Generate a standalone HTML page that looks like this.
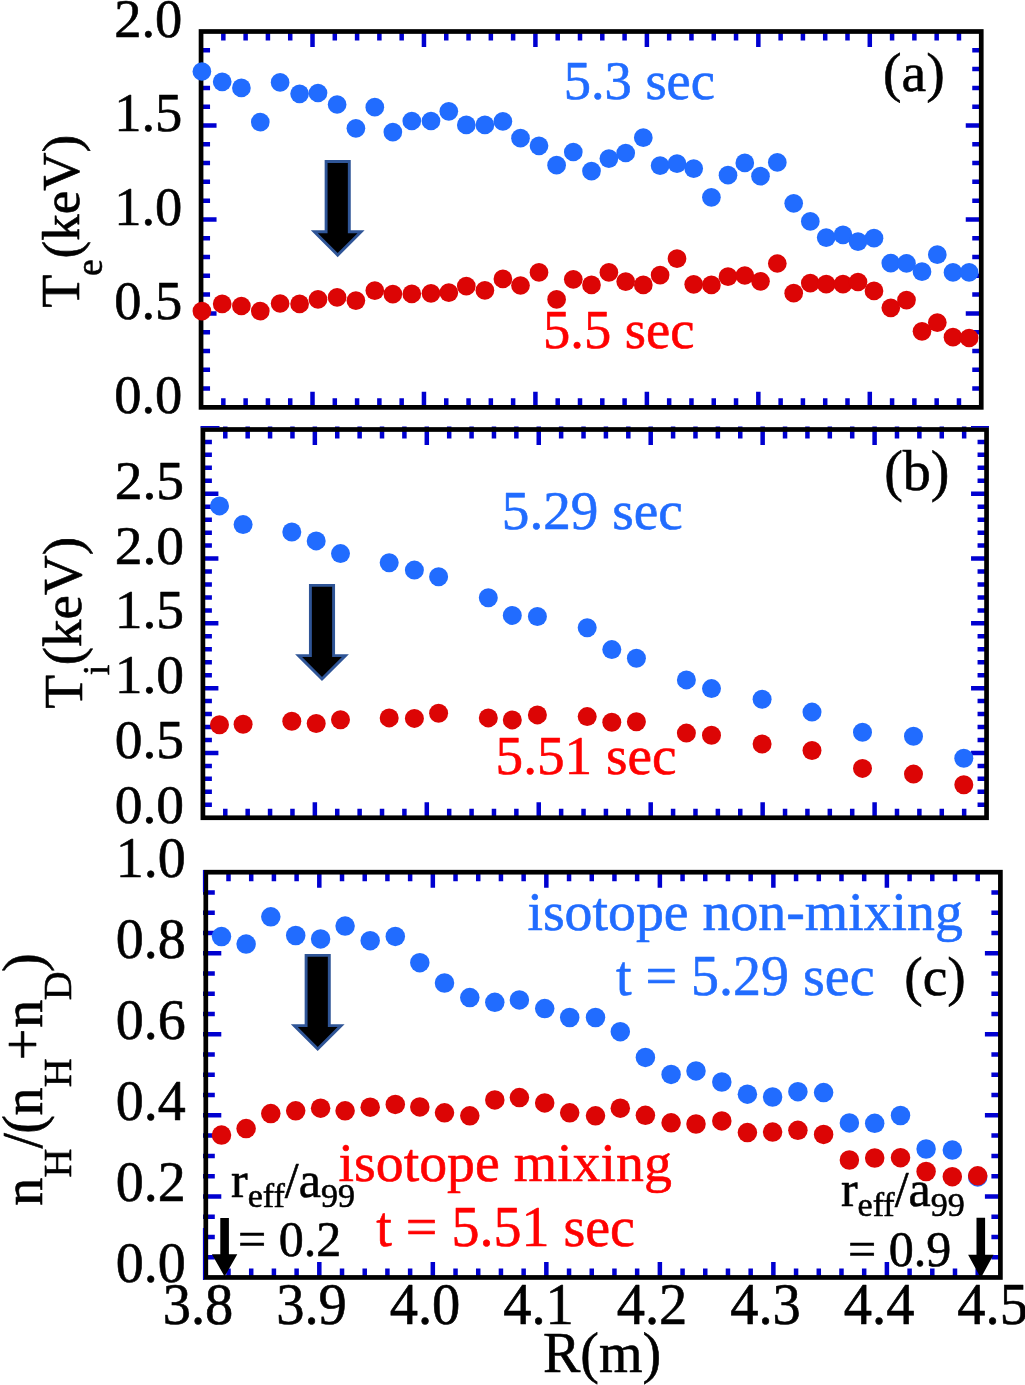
<!DOCTYPE html>
<html><head><meta charset="utf-8"><style>
html,body{margin:0;padding:0;background:#fff;}
svg{display:block;}
text{font-family:"Liberation Serif", serif;}
.t{opacity:0.999;}
.t text{stroke-width:0.6px;stroke-linejoin:round;}
</style></head><body>
<svg width="1025" height="1385" viewBox="0 0 1025 1385">
<rect width="1025" height="1385" fill="#fff"/>
<path d="M223.34 31.50V40.50M223.34 407.35V398.35M245.63 31.50V40.50M245.63 407.35V398.35M267.92 31.50V40.50M267.92 407.35V398.35M290.22 31.50V40.50M290.22 407.35V398.35M312.51 31.50V47.00M312.51 407.35V391.85M334.80 31.50V40.50M334.80 407.35V398.35M357.09 31.50V40.50M357.09 407.35V398.35M379.38 31.50V40.50M379.38 407.35V398.35M401.67 31.50V40.50M401.67 407.35V398.35M423.96 31.50V47.00M423.96 407.35V391.85M446.26 31.50V40.50M446.26 407.35V398.35M468.55 31.50V40.50M468.55 407.35V398.35M490.84 31.50V40.50M490.84 407.35V398.35M513.13 31.50V40.50M513.13 407.35V398.35M535.42 31.50V47.00M535.42 407.35V391.85M557.71 31.50V40.50M557.71 407.35V398.35M580.00 31.50V40.50M580.00 407.35V398.35M602.30 31.50V40.50M602.30 407.35V398.35M624.59 31.50V40.50M624.59 407.35V398.35M646.88 31.50V47.00M646.88 407.35V391.85M669.17 31.50V40.50M669.17 407.35V398.35M691.46 31.50V40.50M691.46 407.35V398.35M713.75 31.50V40.50M713.75 407.35V398.35M736.04 31.50V40.50M736.04 407.35V398.35M758.34 31.50V47.00M758.34 407.35V391.85M780.63 31.50V40.50M780.63 407.35V398.35M802.92 31.50V40.50M802.92 407.35V398.35M825.21 31.50V40.50M825.21 407.35V398.35M847.50 31.50V40.50M847.50 407.35V398.35M869.79 31.50V47.00M869.79 407.35V391.85M892.08 31.50V40.50M892.08 407.35V398.35M914.38 31.50V40.50M914.38 407.35V398.35M936.67 31.50V40.50M936.67 407.35V398.35M958.96 31.50V40.50M958.96 407.35V398.35M201.05 388.56H210.05M981.25 388.56H972.25M201.05 369.77H210.05M981.25 369.77H972.25M201.05 350.97H210.05M981.25 350.97H972.25M201.05 332.18H210.05M981.25 332.18H972.25M201.05 294.60H210.05M981.25 294.60H972.25M201.05 275.80H210.05M981.25 275.80H972.25M201.05 257.01H210.05M981.25 257.01H972.25M201.05 238.22H210.05M981.25 238.22H972.25M201.05 200.63H210.05M981.25 200.63H972.25M201.05 181.84H210.05M981.25 181.84H972.25M201.05 163.05H210.05M981.25 163.05H972.25M201.05 144.25H210.05M981.25 144.25H972.25M201.05 106.67H210.05M981.25 106.67H972.25M201.05 87.88H210.05M981.25 87.88H972.25M201.05 69.08H210.05M981.25 69.08H972.25M201.05 50.29H210.05M981.25 50.29H972.25M201.05 313.39H216.55M981.25 313.39H965.75M201.05 219.43H216.55M981.25 219.43H965.75M201.05 125.46H216.55M981.25 125.46H965.75" stroke="#0000d0" stroke-width="4.5" fill="none"/>
<rect x="201.05" y="31.50" width="780.20" height="375.85" fill="none" stroke="#000" stroke-width="4.7"/>
<path d="M225.29 426.40V438.50M225.29 817.75V808.75M247.68 426.40V438.50M247.68 817.75V808.75M270.07 426.40V438.50M270.07 817.75V808.75M292.46 426.40V438.50M292.46 817.75V808.75M314.85 426.40V445.00M314.85 817.75V802.25M337.24 426.40V438.50M337.24 817.75V808.75M359.63 426.40V438.50M359.63 817.75V808.75M382.02 426.40V438.50M382.02 817.75V808.75M404.41 426.40V438.50M404.41 817.75V808.75M426.80 426.40V445.00M426.80 817.75V802.25M449.19 426.40V438.50M449.19 817.75V808.75M471.58 426.40V438.50M471.58 817.75V808.75M493.97 426.40V438.50M493.97 817.75V808.75M516.36 426.40V438.50M516.36 817.75V808.75M538.75 426.40V445.00M538.75 817.75V802.25M561.14 426.40V438.50M561.14 817.75V808.75M583.53 426.40V438.50M583.53 817.75V808.75M605.92 426.40V438.50M605.92 817.75V808.75M628.31 426.40V438.50M628.31 817.75V808.75M650.70 426.40V445.00M650.70 817.75V802.25M673.09 426.40V438.50M673.09 817.75V808.75M695.48 426.40V438.50M695.48 817.75V808.75M717.87 426.40V438.50M717.87 817.75V808.75M740.26 426.40V438.50M740.26 817.75V808.75M762.65 426.40V445.00M762.65 817.75V802.25M785.04 426.40V438.50M785.04 817.75V808.75M807.43 426.40V438.50M807.43 817.75V808.75M829.82 426.40V438.50M829.82 817.75V808.75M852.21 426.40V438.50M852.21 817.75V808.75M874.60 426.40V445.00M874.60 817.75V802.25M896.99 426.40V438.50M896.99 817.75V808.75M919.38 426.40V438.50M919.38 817.75V808.75M941.77 426.40V438.50M941.77 817.75V808.75M964.16 426.40V438.50M964.16 817.75V808.75M202.90 804.79H211.90M986.55 804.79H977.55M202.90 791.83H211.90M986.55 791.83H977.55M202.90 778.87H211.90M986.55 778.87H977.55M202.90 765.91H211.90M986.55 765.91H977.55M202.90 739.99H211.90M986.55 739.99H977.55M202.90 727.03H211.90M986.55 727.03H977.55M202.90 714.07H211.90M986.55 714.07H977.55M202.90 701.11H211.90M986.55 701.11H977.55M202.90 675.19H211.90M986.55 675.19H977.55M202.90 662.23H211.90M986.55 662.23H977.55M202.90 649.27H211.90M986.55 649.27H977.55M202.90 636.31H211.90M986.55 636.31H977.55M202.90 610.39H211.90M986.55 610.39H977.55M202.90 597.43H211.90M986.55 597.43H977.55M202.90 584.47H211.90M986.55 584.47H977.55M202.90 571.51H211.90M986.55 571.51H977.55M202.90 545.59H211.90M986.55 545.59H977.55M202.90 532.63H211.90M986.55 532.63H977.55M202.90 519.67H211.90M986.55 519.67H977.55M202.90 506.71H211.90M986.55 506.71H977.55M202.90 480.79H211.90M986.55 480.79H977.55M202.90 467.83H211.90M986.55 467.83H977.55M202.90 454.87H211.90M986.55 454.87H977.55M202.90 441.91H211.90M986.55 441.91H977.55M202.90 752.95H218.40M986.55 752.95H971.05M202.90 688.15H218.40M986.55 688.15H971.05M202.90 623.35H218.40M986.55 623.35H971.05M202.90 558.55H218.40M986.55 558.55H971.05M202.90 493.75H218.40M986.55 493.75H971.05" stroke="#0000d0" stroke-width="4.5" fill="none"/>
<rect x="202.90" y="429.50" width="783.65" height="388.25" fill="none" stroke="#000" stroke-width="4.7"/>
<path d="M228.50 872.20V881.20M228.50 1277.45V1268.45M251.21 872.20V881.20M251.21 1277.45V1268.45M273.91 872.20V881.20M273.91 1277.45V1268.45M296.61 872.20V881.20M296.61 1277.45V1268.45M319.31 872.20V887.70M319.31 1277.45V1261.95M342.02 872.20V881.20M342.02 1277.45V1268.45M364.72 872.20V881.20M364.72 1277.45V1268.45M387.42 872.20V881.20M387.42 1277.45V1268.45M410.13 872.20V881.20M410.13 1277.45V1268.45M432.83 872.20V887.70M432.83 1277.45V1261.95M455.53 872.20V881.20M455.53 1277.45V1268.45M478.23 872.20V881.20M478.23 1277.45V1268.45M500.94 872.20V881.20M500.94 1277.45V1268.45M523.64 872.20V881.20M523.64 1277.45V1268.45M546.34 872.20V887.70M546.34 1277.45V1261.95M569.05 872.20V881.20M569.05 1277.45V1268.45M591.75 872.20V881.20M591.75 1277.45V1268.45M614.45 872.20V881.20M614.45 1277.45V1268.45M637.15 872.20V881.20M637.15 1277.45V1268.45M659.86 872.20V887.70M659.86 1277.45V1261.95M682.56 872.20V881.20M682.56 1277.45V1268.45M705.26 872.20V881.20M705.26 1277.45V1268.45M727.97 872.20V881.20M727.97 1277.45V1268.45M750.67 872.20V881.20M750.67 1277.45V1268.45M773.37 872.20V887.70M773.37 1277.45V1261.95M796.07 872.20V881.20M796.07 1277.45V1268.45M818.78 872.20V881.20M818.78 1277.45V1268.45M841.48 872.20V881.20M841.48 1277.45V1268.45M864.18 872.20V881.20M864.18 1277.45V1268.45M886.89 872.20V887.70M886.89 1277.45V1261.95M909.59 872.20V881.20M909.59 1277.45V1268.45M932.29 872.20V881.20M932.29 1277.45V1268.45M954.99 872.20V881.20M954.99 1277.45V1268.45M977.70 872.20V881.20M977.70 1277.45V1268.45M203.00 1257.19H214.80M1000.40 1257.19H991.40M203.00 1236.92H214.80M1000.40 1236.92H991.40M203.00 1216.66H214.80M1000.40 1216.66H991.40M203.00 1176.14H214.80M1000.40 1176.14H991.40M203.00 1155.88H214.80M1000.40 1155.88H991.40M203.00 1135.61H214.80M1000.40 1135.61H991.40M203.00 1095.09H214.80M1000.40 1095.09H991.40M203.00 1074.83H214.80M1000.40 1074.83H991.40M203.00 1054.56H214.80M1000.40 1054.56H991.40M203.00 1014.04H214.80M1000.40 1014.04H991.40M203.00 993.78H214.80M1000.40 993.78H991.40M203.00 973.51H214.80M1000.40 973.51H991.40M203.00 932.99H214.80M1000.40 932.99H991.40M203.00 912.73H214.80M1000.40 912.73H991.40M203.00 892.46H214.80M1000.40 892.46H991.40M203.00 1196.40H221.30M1000.40 1196.40H984.90M203.00 1115.35H221.30M1000.40 1115.35H984.90M203.00 1034.30H221.30M1000.40 1034.30H984.90M203.00 953.25H221.30M1000.40 953.25H984.90" stroke="#0000d0" stroke-width="4.5" fill="none"/>
<rect x="205.80" y="872.20" width="794.60" height="405.25" fill="none" stroke="#000" stroke-width="4.7"/>
<path d="M200.5 426.8H219.5M971 426.8H989" stroke="#0000d0" stroke-width="1.6"/>
<path d="M203.5 870V892M203.5 1228V1280" stroke="#0000d0" stroke-width="1.2"/>
<circle cx="201.9" cy="71.5" r="9.35" fill="#216cff"/>
<circle cx="222.2" cy="81.8" r="9.35" fill="#216cff"/>
<circle cx="241.4" cy="87.9" r="9.35" fill="#216cff"/>
<circle cx="260.3" cy="122.1" r="9.35" fill="#216cff"/>
<circle cx="280.1" cy="82.4" r="9.35" fill="#216cff"/>
<circle cx="299.6" cy="93.8" r="9.35" fill="#216cff"/>
<circle cx="318" cy="93" r="9.35" fill="#216cff"/>
<circle cx="337.1" cy="104.5" r="9.35" fill="#216cff"/>
<circle cx="355.9" cy="128.3" r="9.35" fill="#216cff"/>
<circle cx="374.8" cy="107.2" r="9.35" fill="#216cff"/>
<circle cx="392.85" cy="132.1" r="9.35" fill="#216cff"/>
<circle cx="411.8" cy="121" r="9.35" fill="#216cff"/>
<circle cx="431" cy="121" r="9.35" fill="#216cff"/>
<circle cx="448.8" cy="111.3" r="9.35" fill="#216cff"/>
<circle cx="466.3" cy="124.9" r="9.35" fill="#216cff"/>
<circle cx="484.9" cy="124.9" r="9.35" fill="#216cff"/>
<circle cx="502.9" cy="121.4" r="9.35" fill="#216cff"/>
<circle cx="520.5" cy="138.2" r="9.35" fill="#216cff"/>
<circle cx="539" cy="145.8" r="9.35" fill="#216cff"/>
<circle cx="556.6" cy="165.2" r="9.35" fill="#216cff"/>
<circle cx="573.3" cy="152" r="9.35" fill="#216cff"/>
<circle cx="591.5" cy="171.1" r="9.35" fill="#216cff"/>
<circle cx="608.9" cy="158.6" r="9.35" fill="#216cff"/>
<circle cx="625.7" cy="153" r="9.35" fill="#216cff"/>
<circle cx="643.3" cy="137.7" r="9.35" fill="#216cff"/>
<circle cx="660.1" cy="165.7" r="9.35" fill="#216cff"/>
<circle cx="677" cy="163.7" r="9.35" fill="#216cff"/>
<circle cx="693.7" cy="168.6" r="9.35" fill="#216cff"/>
<circle cx="711.4" cy="197.3" r="9.35" fill="#216cff"/>
<circle cx="728" cy="175.2" r="9.35" fill="#216cff"/>
<circle cx="744.8" cy="162.9" r="9.35" fill="#216cff"/>
<circle cx="760.5" cy="176.2" r="9.35" fill="#216cff"/>
<circle cx="777.3" cy="162.4" r="9.35" fill="#216cff"/>
<circle cx="793.7" cy="203.3" r="9.35" fill="#216cff"/>
<circle cx="810.3" cy="221.4" r="9.35" fill="#216cff"/>
<circle cx="826.2" cy="237.6" r="9.35" fill="#216cff"/>
<circle cx="843" cy="234.9" r="9.35" fill="#216cff"/>
<circle cx="858" cy="241.6" r="9.35" fill="#216cff"/>
<circle cx="874" cy="238.2" r="9.35" fill="#216cff"/>
<circle cx="890.8" cy="263.1" r="9.35" fill="#216cff"/>
<circle cx="906.5" cy="263.4" r="9.35" fill="#216cff"/>
<circle cx="922" cy="271.7" r="9.35" fill="#216cff"/>
<circle cx="937.3" cy="254.7" r="9.35" fill="#216cff"/>
<circle cx="953" cy="272.4" r="9.35" fill="#216cff"/>
<circle cx="969.1" cy="272.4" r="9.35" fill="#216cff"/>
<circle cx="201.9" cy="311.1" r="9.35" fill="#dc0505"/>
<circle cx="222.2" cy="303.9" r="9.35" fill="#dc0505"/>
<circle cx="241.4" cy="306" r="9.35" fill="#dc0505"/>
<circle cx="260.3" cy="311.1" r="9.35" fill="#dc0505"/>
<circle cx="280.1" cy="303.5" r="9.35" fill="#dc0505"/>
<circle cx="299.6" cy="303.9" r="9.35" fill="#dc0505"/>
<circle cx="318" cy="299.4" r="9.35" fill="#dc0505"/>
<circle cx="337.1" cy="297.4" r="9.35" fill="#dc0505"/>
<circle cx="355.9" cy="300.6" r="9.35" fill="#dc0505"/>
<circle cx="374.8" cy="290.6" r="9.35" fill="#dc0505"/>
<circle cx="392.85" cy="294.1" r="9.35" fill="#dc0505"/>
<circle cx="411.8" cy="293.9" r="9.35" fill="#dc0505"/>
<circle cx="431" cy="293.3" r="9.35" fill="#dc0505"/>
<circle cx="448.8" cy="292.7" r="9.35" fill="#dc0505"/>
<circle cx="466.3" cy="286.1" r="9.35" fill="#dc0505"/>
<circle cx="484.9" cy="290.4" r="9.35" fill="#dc0505"/>
<circle cx="502.9" cy="278.9" r="9.35" fill="#dc0505"/>
<circle cx="520.5" cy="285.5" r="9.35" fill="#dc0505"/>
<circle cx="539" cy="272.4" r="9.35" fill="#dc0505"/>
<circle cx="556.6" cy="299.4" r="9.35" fill="#dc0505"/>
<circle cx="573.3" cy="279.3" r="9.35" fill="#dc0505"/>
<circle cx="591.5" cy="284.9" r="9.35" fill="#dc0505"/>
<circle cx="608.9" cy="272.4" r="9.35" fill="#dc0505"/>
<circle cx="625.7" cy="281.6" r="9.35" fill="#dc0505"/>
<circle cx="643.3" cy="284.9" r="9.35" fill="#dc0505"/>
<circle cx="660.1" cy="275.1" r="9.35" fill="#dc0505"/>
<circle cx="677" cy="258.7" r="9.35" fill="#dc0505"/>
<circle cx="693.7" cy="284.3" r="9.35" fill="#dc0505"/>
<circle cx="711.4" cy="284.9" r="9.35" fill="#dc0505"/>
<circle cx="728" cy="276.7" r="9.35" fill="#dc0505"/>
<circle cx="744.8" cy="275.5" r="9.35" fill="#dc0505"/>
<circle cx="760.5" cy="281.3" r="9.35" fill="#dc0505"/>
<circle cx="777.3" cy="263.5" r="9.35" fill="#dc0505"/>
<circle cx="793.7" cy="293.2" r="9.35" fill="#dc0505"/>
<circle cx="810.3" cy="283.1" r="9.35" fill="#dc0505"/>
<circle cx="826.2" cy="284.2" r="9.35" fill="#dc0505"/>
<circle cx="843" cy="284.2" r="9.35" fill="#dc0505"/>
<circle cx="858" cy="282" r="9.35" fill="#dc0505"/>
<circle cx="874" cy="290.9" r="9.35" fill="#dc0505"/>
<circle cx="890.8" cy="307.8" r="9.35" fill="#dc0505"/>
<circle cx="906.5" cy="300.1" r="9.35" fill="#dc0505"/>
<circle cx="922" cy="331.3" r="9.35" fill="#dc0505"/>
<circle cx="937.3" cy="322.6" r="9.35" fill="#dc0505"/>
<circle cx="953" cy="337.2" r="9.35" fill="#dc0505"/>
<circle cx="969.1" cy="338" r="9.35" fill="#dc0505"/>
<circle cx="219.5" cy="505.9" r="9.5" fill="#216cff"/>
<circle cx="243.1" cy="524.6" r="9.5" fill="#216cff"/>
<circle cx="291.8" cy="532" r="9.5" fill="#216cff"/>
<circle cx="316.2" cy="540.9" r="9.5" fill="#216cff"/>
<circle cx="340.5" cy="553.6" r="9.5" fill="#216cff"/>
<circle cx="389.2" cy="562.7" r="9.5" fill="#216cff"/>
<circle cx="414.4" cy="570.1" r="9.5" fill="#216cff"/>
<circle cx="438.6" cy="576.7" r="9.5" fill="#216cff"/>
<circle cx="488.3" cy="597.7" r="9.5" fill="#216cff"/>
<circle cx="512.3" cy="615.4" r="9.5" fill="#216cff"/>
<circle cx="537.4" cy="616.5" r="9.5" fill="#216cff"/>
<circle cx="587.2" cy="627.7" r="9.5" fill="#216cff"/>
<circle cx="611.8" cy="649.6" r="9.5" fill="#216cff"/>
<circle cx="636.4" cy="658.3" r="9.5" fill="#216cff"/>
<circle cx="686.4" cy="679.9" r="9.5" fill="#216cff"/>
<circle cx="711.5" cy="688.6" r="9.5" fill="#216cff"/>
<circle cx="762.1" cy="699.3" r="9.5" fill="#216cff"/>
<circle cx="812" cy="712.1" r="9.5" fill="#216cff"/>
<circle cx="862.5" cy="732.2" r="9.5" fill="#216cff"/>
<circle cx="913.5" cy="736.2" r="9.5" fill="#216cff"/>
<circle cx="963.8" cy="758.2" r="9.5" fill="#216cff"/>
<circle cx="219.5" cy="724.8" r="9.5" fill="#dc0505"/>
<circle cx="243.1" cy="724.2" r="9.5" fill="#dc0505"/>
<circle cx="291.8" cy="721.2" r="9.5" fill="#dc0505"/>
<circle cx="316.2" cy="723.5" r="9.5" fill="#dc0505"/>
<circle cx="340.5" cy="719.7" r="9.5" fill="#dc0505"/>
<circle cx="389.2" cy="717.9" r="9.5" fill="#dc0505"/>
<circle cx="414.4" cy="718.4" r="9.5" fill="#dc0505"/>
<circle cx="438.6" cy="713.3" r="9.5" fill="#dc0505"/>
<circle cx="488.3" cy="717.9" r="9.5" fill="#dc0505"/>
<circle cx="512.3" cy="719.9" r="9.5" fill="#dc0505"/>
<circle cx="537.4" cy="714.9" r="9.5" fill="#dc0505"/>
<circle cx="587.2" cy="716.6" r="9.5" fill="#dc0505"/>
<circle cx="611.8" cy="722.2" r="9.5" fill="#dc0505"/>
<circle cx="636.4" cy="721.7" r="9.5" fill="#dc0505"/>
<circle cx="686.4" cy="733.1" r="9.5" fill="#dc0505"/>
<circle cx="711.5" cy="735.3" r="9.5" fill="#dc0505"/>
<circle cx="762.1" cy="744" r="9.5" fill="#dc0505"/>
<circle cx="812" cy="750.5" r="9.5" fill="#dc0505"/>
<circle cx="862.5" cy="768.4" r="9.5" fill="#dc0505"/>
<circle cx="913.5" cy="774.1" r="9.5" fill="#dc0505"/>
<circle cx="963.8" cy="784.8" r="9.5" fill="#dc0505"/>
<circle cx="221.5" cy="936.6" r="9.75" fill="#216cff"/>
<circle cx="246.1" cy="944.1" r="9.75" fill="#216cff"/>
<circle cx="270.8" cy="916.8" r="9.75" fill="#216cff"/>
<circle cx="295.7" cy="935.5" r="9.75" fill="#216cff"/>
<circle cx="320.6" cy="938.9" r="9.75" fill="#216cff"/>
<circle cx="345.1" cy="926.1" r="9.75" fill="#216cff"/>
<circle cx="370.2" cy="940.7" r="9.75" fill="#216cff"/>
<circle cx="395.3" cy="936.4" r="9.75" fill="#216cff"/>
<circle cx="419.8" cy="962.7" r="9.75" fill="#216cff"/>
<circle cx="444.5" cy="983" r="9.75" fill="#216cff"/>
<circle cx="469.8" cy="997.6" r="9.75" fill="#216cff"/>
<circle cx="494.8" cy="1002.3" r="9.75" fill="#216cff"/>
<circle cx="519.4" cy="999.9" r="9.75" fill="#216cff"/>
<circle cx="544.7" cy="1008.6" r="9.75" fill="#216cff"/>
<circle cx="569.7" cy="1017.5" r="9.75" fill="#216cff"/>
<circle cx="595.5" cy="1017.5" r="9.75" fill="#216cff"/>
<circle cx="620.3" cy="1031.7" r="9.75" fill="#216cff"/>
<circle cx="645.4" cy="1057.4" r="9.75" fill="#216cff"/>
<circle cx="671.1" cy="1074.4" r="9.75" fill="#216cff"/>
<circle cx="696" cy="1070.9" r="9.75" fill="#216cff"/>
<circle cx="721.8" cy="1082" r="9.75" fill="#216cff"/>
<circle cx="747.4" cy="1094.2" r="9.75" fill="#216cff"/>
<circle cx="772.6" cy="1097" r="9.75" fill="#216cff"/>
<circle cx="797.9" cy="1091.7" r="9.75" fill="#216cff"/>
<circle cx="823.6" cy="1092.6" r="9.75" fill="#216cff"/>
<circle cx="849.4" cy="1122.9" r="9.75" fill="#216cff"/>
<circle cx="874.7" cy="1123.3" r="9.75" fill="#216cff"/>
<circle cx="900.5" cy="1115.5" r="9.75" fill="#216cff"/>
<circle cx="926.1" cy="1149" r="9.75" fill="#216cff"/>
<circle cx="952.3" cy="1150.1" r="9.75" fill="#216cff"/>
<circle cx="977.7" cy="1176.9" r="9.75" fill="#216cff"/>
<circle cx="221.5" cy="1135.1" r="9.75" fill="#dc0505"/>
<circle cx="246.1" cy="1128.6" r="9.75" fill="#dc0505"/>
<circle cx="270.8" cy="1113.6" r="9.75" fill="#dc0505"/>
<circle cx="295.7" cy="1110.8" r="9.75" fill="#dc0505"/>
<circle cx="320.6" cy="1108.2" r="9.75" fill="#dc0505"/>
<circle cx="345.1" cy="1110.8" r="9.75" fill="#dc0505"/>
<circle cx="370.2" cy="1107.2" r="9.75" fill="#dc0505"/>
<circle cx="395.3" cy="1104.4" r="9.75" fill="#dc0505"/>
<circle cx="419.8" cy="1106.9" r="9.75" fill="#dc0505"/>
<circle cx="444.5" cy="1112.8" r="9.75" fill="#dc0505"/>
<circle cx="469.8" cy="1115.8" r="9.75" fill="#dc0505"/>
<circle cx="494.8" cy="1099.9" r="9.75" fill="#dc0505"/>
<circle cx="519.4" cy="1097.6" r="9.75" fill="#dc0505"/>
<circle cx="544.7" cy="1102.9" r="9.75" fill="#dc0505"/>
<circle cx="569.7" cy="1112.8" r="9.75" fill="#dc0505"/>
<circle cx="595.5" cy="1115.8" r="9.75" fill="#dc0505"/>
<circle cx="620.3" cy="1108.2" r="9.75" fill="#dc0505"/>
<circle cx="645.4" cy="1115.3" r="9.75" fill="#dc0505"/>
<circle cx="671.1" cy="1122.8" r="9.75" fill="#dc0505"/>
<circle cx="696" cy="1124" r="9.75" fill="#dc0505"/>
<circle cx="721.8" cy="1120.9" r="9.75" fill="#dc0505"/>
<circle cx="747.4" cy="1132.6" r="9.75" fill="#dc0505"/>
<circle cx="772.6" cy="1132.1" r="9.75" fill="#dc0505"/>
<circle cx="797.9" cy="1130.3" r="9.75" fill="#dc0505"/>
<circle cx="823.6" cy="1134.4" r="9.75" fill="#dc0505"/>
<circle cx="849.4" cy="1160" r="9.75" fill="#dc0505"/>
<circle cx="874.7" cy="1158" r="9.75" fill="#dc0505"/>
<circle cx="900.5" cy="1157.7" r="9.75" fill="#dc0505"/>
<circle cx="926.1" cy="1171.5" r="9.75" fill="#dc0505"/>
<circle cx="952.3" cy="1176.7" r="9.75" fill="#dc0505"/>
<circle cx="977.7" cy="1175.8" r="9.75" fill="#dc0505"/>
<path d="M326.10 161.50H349.30V231.70H361.10L337.70 255.10L314.30 231.70H326.10Z" fill="#000" stroke="#2f5597" stroke-width="2.9"/>
<path d="M310.40 585.40H333.60V655.60H345.40L322.00 679.00L298.60 655.60H310.40Z" fill="#000" stroke="#2f5597" stroke-width="2.9"/>
<path d="M306.10 955.40H329.30V1025.60H341.10L317.70 1049.00L294.30 1025.60H306.10Z" fill="#000" stroke="#2f5597" stroke-width="2.9"/>
<path d="M220.30 1217.90H228.90V1254.30H237.30L224.60 1276.50L211.90 1254.30H220.30Z" fill="#000"/>
<path d="M976.50 1217.70H985.10V1254.70H993.50L980.80 1278.00L968.10 1254.70H976.50Z" fill="#000"/>
<g class="t">
<text x="182.30" y="36.80" font-size="54.5" fill="#000" stroke="#000" text-anchor="end">2.0</text>
<text x="182.30" y="130.76" font-size="54.5" fill="#000" stroke="#000" text-anchor="end">1.5</text>
<text x="182.30" y="224.73" font-size="54.5" fill="#000" stroke="#000" text-anchor="end">1.0</text>
<text x="182.30" y="318.69" font-size="54.5" fill="#000" stroke="#000" text-anchor="end">0.5</text>
<text x="182.30" y="412.65" font-size="54.5" fill="#000" stroke="#000" text-anchor="end">0.0</text>
<text x="184.00" y="498.75" font-size="55.5" fill="#000" stroke="#000" text-anchor="end">2.5</text>
<text x="184.00" y="563.55" font-size="55.5" fill="#000" stroke="#000" text-anchor="end">2.0</text>
<text x="184.00" y="628.35" font-size="55.5" fill="#000" stroke="#000" text-anchor="end">1.5</text>
<text x="184.00" y="693.15" font-size="55.5" fill="#000" stroke="#000" text-anchor="end">1.0</text>
<text x="184.00" y="757.95" font-size="55.5" fill="#000" stroke="#000" text-anchor="end">0.5</text>
<text x="184.00" y="822.75" font-size="55.5" fill="#000" stroke="#000" text-anchor="end">0.0</text>
<text transform="translate(0 877.20) scale(1 1.03)" x="185.70" y="0" font-size="56" fill="#000" stroke="#000" text-anchor="end">1.0</text>
<text transform="translate(0 958.25) scale(1 1.03)" x="185.70" y="0" font-size="56" fill="#000" stroke="#000" text-anchor="end">0.8</text>
<text transform="translate(0 1039.30) scale(1 1.03)" x="185.70" y="0" font-size="56" fill="#000" stroke="#000" text-anchor="end">0.6</text>
<text transform="translate(0 1120.35) scale(1 1.03)" x="185.70" y="0" font-size="56" fill="#000" stroke="#000" text-anchor="end">0.4</text>
<text transform="translate(0 1201.40) scale(1 1.03)" x="185.70" y="0" font-size="56" fill="#000" stroke="#000" text-anchor="end">0.2</text>
<text transform="translate(0 1282.45) scale(1 1.03)" x="185.70" y="0" font-size="56" fill="#000" stroke="#000" text-anchor="end">0.0</text>
<text transform="translate(0 1323.6) scale(1 1.03)" x="198.00" y="0" font-size="56.5" text-anchor="middle" stroke="#000">3.8</text>
<text transform="translate(0 1323.6) scale(1 1.03)" x="311.51" y="0" font-size="56.5" text-anchor="middle" stroke="#000">3.9</text>
<text transform="translate(0 1323.6) scale(1 1.03)" x="425.03" y="0" font-size="56.5" text-anchor="middle" stroke="#000">4.0</text>
<text transform="translate(0 1323.6) scale(1 1.03)" x="538.54" y="0" font-size="56.5" text-anchor="middle" stroke="#000">4.1</text>
<text transform="translate(0 1323.6) scale(1 1.03)" x="652.06" y="0" font-size="56.5" text-anchor="middle" stroke="#000">4.2</text>
<text transform="translate(0 1323.6) scale(1 1.03)" x="765.57" y="0" font-size="56.5" text-anchor="middle" stroke="#000">4.3</text>
<text transform="translate(0 1323.6) scale(1 1.03)" x="879.09" y="0" font-size="56.5" text-anchor="middle" stroke="#000">4.4</text>
<text transform="translate(0 1323.6) scale(1 1.03)" x="992.60" y="0" font-size="56.5" text-anchor="middle" stroke="#000">4.5</text>
<text x="542.92" y="1372.40" font-size="56" fill="#000" stroke="#000" >R(m)</text>
<text transform="translate(78.60 307.68) rotate(-90)" x="0" y="0" font-size="54" fill="#000" stroke="#000">T</text>
<text transform="translate(102.40 276.02) rotate(-90)" x="0" y="0" font-size="38" fill="#000" stroke="#000">e</text>
<text transform="translate(78.60 258.38) rotate(-90)" x="0" y="0" font-size="53" fill="#000" stroke="#000">(keV)</text>
<text transform="translate(82.30 708.81) rotate(-90)" x="0" y="0" font-size="55.5" fill="#000" stroke="#000">T</text>
<text transform="translate(108.90 675.26) rotate(-90)" x="0" y="0" font-size="38" fill="#000" stroke="#000">i</text>
<text transform="translate(81.30 665.27) rotate(-90)" x="0" y="0" font-size="55" fill="#000" stroke="#000">(keV)</text>
<text transform="translate(42.40 1205.72) rotate(-90)" x="0" y="0" font-size="56" fill="#000" stroke="#000">n</text>
<text transform="translate(71.00 1177.50) rotate(-90)" x="0" y="0" font-size="40" fill="#000" stroke="#000">H</text>
<text transform="translate(42.40 1148.50) rotate(-90)" x="0" y="0" font-size="56" fill="#000" stroke="#000">/</text>
<text transform="translate(42.40 1133.82) rotate(-90)" x="0" y="0" font-size="56" fill="#000" stroke="#000">(</text>
<text transform="translate(42.40 1115.62) rotate(-90)" x="0" y="0" font-size="56" fill="#000" stroke="#000">n</text>
<text transform="translate(71.00 1087.20) rotate(-90)" x="0" y="0" font-size="40" fill="#000" stroke="#000">H</text>
<text transform="translate(42.40 1060.20) rotate(-90)" x="0" y="0" font-size="56" fill="#000" stroke="#000">+</text>
<text transform="translate(42.40 1027.72) rotate(-90)" x="0" y="0" font-size="56" fill="#000" stroke="#000">n</text>
<text transform="translate(71.00 1000.20) rotate(-90)" x="0" y="0" font-size="40" fill="#000" stroke="#000">D</text>
<text transform="translate(42.40 971.98) rotate(-90)" x="0" y="0" font-size="56" fill="#000" stroke="#000">)</text>
<text x="563.63" y="99.40" font-size="54.5" fill="#216cff" stroke="#216cff" >5.3 sec</text>
<text x="883.10" y="90.50" font-size="55.6" fill="#000" stroke="#000" >(a)</text>
<text x="543.03" y="347.80" font-size="54.5" fill="#ff0000" stroke="#ff0000" >5.5 sec</text>
<text x="501.79" y="529.20" font-size="55.2" fill="#216cff" stroke="#216cff" >5.29 sec</text>
<text x="884.18" y="490.00" font-size="56" fill="#000" stroke="#000" >(b)</text>
<text x="495.59" y="774.30" font-size="55.2" fill="#ff0000" stroke="#ff0000" >5.51 sec</text>
<text x="527.38" y="929.60" font-size="55.8" fill="#216cff" stroke="#216cff" >isotope non-mixing</text>
<text x="615.94" y="995.10" font-size="56" fill="#216cff" stroke="#216cff" >t = 5.29 sec</text>
<text x="904.20" y="995.30" font-size="55.5" fill="#000" stroke="#000" >(c)</text>
<text x="338.58" y="1181.00" font-size="55.8" fill="#ff0000" stroke="#ff0000" >isotope mixing</text>
<text x="376.24" y="1246.00" font-size="56" fill="#ff0000" stroke="#ff0000" >t = 5.51 sec</text>
<text x="231.00" y="1196.80" font-size="50" stroke="#000">r<tspan font-size="34" dy="10.5">eff</tspan><tspan dy="-10.5">/a</tspan><tspan font-size="34" dy="10.5">99</tspan></text>
<text x="238.10" y="1256.10" font-size="50" fill="#000" stroke="#000" >= 0.2</text>
<text x="840.90" y="1205.60" font-size="50" stroke="#000">r<tspan font-size="34" dy="10.5">eff</tspan><tspan dy="-10.5">/a</tspan><tspan font-size="34" dy="10.5">99</tspan></text>
<text x="848.10" y="1265.80" font-size="50" fill="#000" stroke="#000" >= 0.9</text>
</g>
</svg>
</body></html>
